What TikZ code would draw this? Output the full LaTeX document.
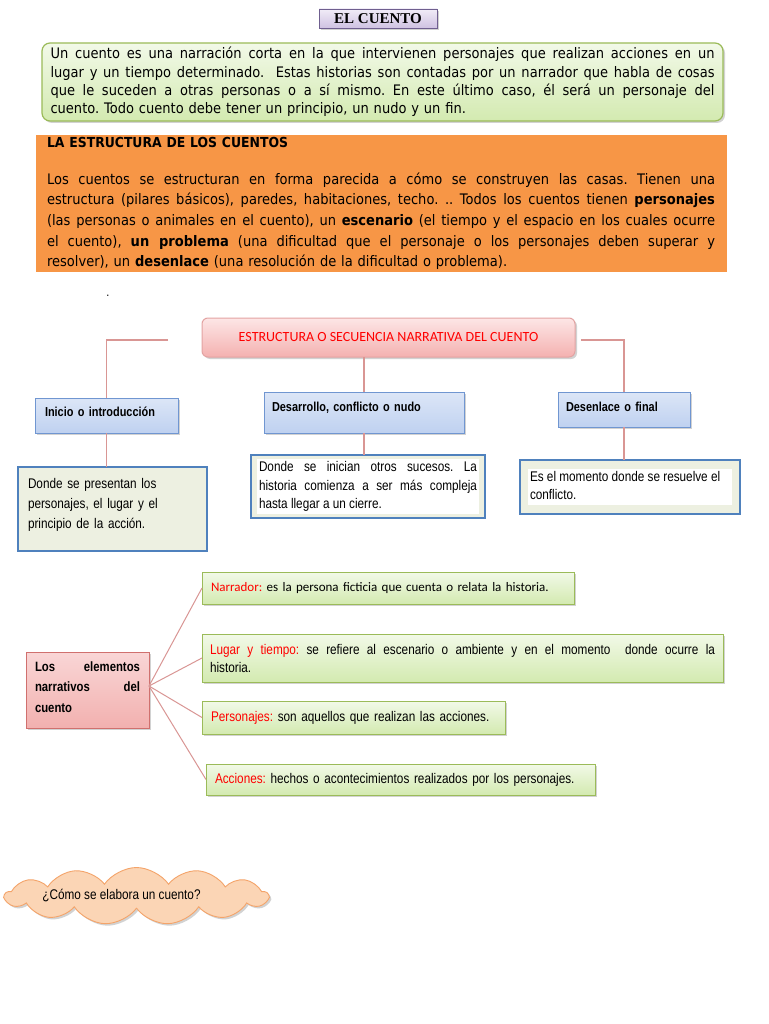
\documentclass[tikz,border=0pt]{standalone}
\usepackage{fontspec}
\setmainfont{Liberation Sans}
\newfontfamily\tahfont[FakeStretch=0.9]{DejaVu Sans}
\newfontfamily\narrowfont[FakeStretch=0.84]{Liberation Sans}
\newfontfamily\titlefont{Liberation Serif}
\newfontfamily\califont{Carlito}
\usetikzlibrary{shadows,shapes.symbols}
\newcommand\JL[2]{\makebox[#1][s]{\spaceskip=0pt\xspaceskip=0pt\relax #2}}
\definecolor{titleTop}{HTML}{F1ECF7}
\definecolor{titleBot}{HTML}{CFC2E2}
\definecolor{titleBd}{HTML}{6F5F8F}
\definecolor{grTop}{HTML}{F2F9E8}
\definecolor{grBot}{HTML}{D3EAB0}
\definecolor{grBd}{HTML}{9BBB59}
\definecolor{orng}{HTML}{F79646}
\definecolor{rdTop}{HTML}{FDE6E6}
\definecolor{rdBot}{HTML}{F4B1B0}
\definecolor{rdBd}{HTML}{E3A3A2}
\definecolor{connC}{HTML}{D99694}
\definecolor{blTop}{HTML}{DCE6F7}
\definecolor{blBot}{HTML}{BFD1F0}
\definecolor{blBd}{HTML}{7096D1}
\definecolor{dBd}{HTML}{4F81BD}
\definecolor{dFill}{HTML}{EDF0E1}
\definecolor{neTop}{HTML}{F9D6D6}
\definecolor{neBot}{HTML}{F2B0AF}
\definecolor{neBd}{HTML}{D0706E}
\definecolor{clFill}{HTML}{FBD5B5}
\definecolor{clBd}{HTML}{F4A46A}
\definecolor{redtxt}{HTML}{FF0000}
\begin{document}
\frenchspacing
\begin{tikzpicture}[x=1pt,y=-1pt,
  every node/.style={inner sep=0pt, outer sep=0pt},
  shadowA/.style={drop shadow={opacity=0.35, shadow xshift=2pt, shadow yshift=-2pt}},
  titlebox/.style={draw=titleBd, line width=0.9pt, top color=titleTop, bottom color=titleBot,
    minimum width=118pt, minimum height=19pt, shadowA,
    font=\titlefont\bfseries\fontsize{15}{17}\selectfont},
  introbox/.style={draw=grBd, line width=1.2pt, rounded corners=8pt, top color=grTop, bottom color=grBot,
    shadowA, align=left, font=\tahfont\fontsize{14.5}{18.3}\selectfont},
  orangebox/.style={draw=white, line width=3pt, fill=orng, shadowA, align=left,
    font=\tahfont\fontsize{14.5}{20.7}\selectfont},
  redbox/.style={draw=rdBd, line width=1pt, rounded corners=6pt, top color=rdTop, bottom color=rdBot,
    shadowA, text=redtxt, font=\califont\fontsize{14}{16}\selectfont},
  hdr/.style={draw=blBd, line width=0.9pt, top color=blTop, bottom color=blBot, shadowA,
    align=left, font=\narrowfont\bfseries\fontsize{13}{15}\selectfont},
  desc/.style={draw=dBd, line width=2.4pt, fill=dFill, align=left,
    font=\narrowfont\fontsize{14}{20}\selectfont},
  elem/.style={draw=grBd, line width=0.9pt, top color=grTop, bottom color=grBot, shadowA,
    align=left, font=\narrowfont\fontsize{14}{18}\selectfont},
  nebox/.style={draw=neBd, line width=1pt, top color=neTop, bottom color=neBot, shadowA,
    align=left, font=\narrowfont\bfseries\fontsize{13.5}{20.5}\selectfont},
  cloudbox/.style={cloud, cloud puffs=13, cloud puff arc=110, cloud ignores aspect,
    minimum width=263pt, minimum height=57pt, fill=clFill, draw=clBd, line width=0.9pt, shadowA,
    font=\narrowfont\fontsize{14}{16}\selectfont},
  conn/.style={draw=connC, line width=1.2pt}
]
\fill[white] (0,0) rectangle (768,1024);
\useasboundingbox (0,0) rectangle (768,1024);

% title
\node[titlebox] (title) at (378,18.5) {EL CUENTO};

% intro
\node[introbox, minimum width=681pt, minimum height=78pt, inner xsep=8.5pt, text width=664pt] (intro) at (382.5,82)
{\JL{664pt}{Un cuento es una narración corta en la que intervienen personajes que realizan acciones en un}\\
\JL{664pt}{lugar y un tiempo determinado.\ \ Estas historias son contadas por un narrador que habla de cosas}\\
\JL{664pt}{que le suceden a otras personas o a sí mismo. En este último caso, él será un personaje del}\\
cuento. Todo cuento debe tener un principio, un nudo y un fin.};

% structure
\node[orangebox, minimum width=694pt, minimum height=139pt, inner xsep=13pt, text width=668pt] (estruct) at (381,203.5)
{{\bfseries\fontsize{13.8}{20.7}\selectfont LA ESTRUCTURA DE LOS CUENTOS}\\[16pt]
\JL{668pt}{Los cuentos se estructuran en forma parecida a cómo se construyen las casas. Tienen una}\\
\JL{668pt}{estructura (pilares básicos), paredes, habitaciones, techo. .. Todos los cuentos tienen \textbf{personajes}}\\
\JL{668pt}{(las personas o animales en el cuento), un \textbf{escenario} (el tiempo y el espacio en los cuales ocurre}\\
\JL{668pt}{el cuento), \textbf{un problema} (una dificultad que el personaje o los personajes deben superar y}\\
resolver), un \textbf{desenlace} (una resolución de la dificultad o problema).};

\node[font=\narrowfont\fontsize{13}{15}\selectfont] (punto) at (108,296) {.};

% sequence
\node[redbox, minimum width=373pt, minimum height=39pt] (secuencia) at (388.5,337.5)
{ESTRUCTURA O SECUENCIA NARRATIVA DEL CUENTO};

\node[hdr, anchor=north west, text width=123pt, inner xsep=10pt, text height=18pt, text depth=17pt] (inicio) at (35,398) {Inicio o introducción};
\node[hdr, anchor=north west, text width=184pt, inner xsep=8pt, text height=19pt, text depth=22pt] (desa) at (264,392) {Desarrollo, conflicto o nudo};
\node[hdr, anchor=north west, text width=116pt, inner xsep=8pt, text height=19pt, text depth=16pt] (desen) at (558,392) {Desenlace o final};

\node[desc, anchor=north west, text width=169pt, inner xsep=10pt, text height=21pt, text depth=63pt] (d1) at (18,467)
{Donde se presentan los\\personajes, el lugar y el\\principio de la acción.};
\node[desc, anchor=north west, minimum width=234pt, minimum height=63pt] (d2) at (251,455)
{\setlength{\fboxsep}{2pt}\colorbox{white}{\parbox{218pt}{\fontsize{14}{18.5}\selectfont
\JL{218pt}{Donde se inician otros sucesos. La}\\
\JL{218pt}{historia comienza a ser más compleja}\\
hasta llegar a un cierre.}}};
\node[desc, anchor=north west, minimum width=220pt, minimum height=54pt] (d3) at (520,460)
{\setlength{\fboxsep}{2pt}\colorbox{white}{\parbox{200pt}{\fontsize{14}{18}\selectfont
Es el momento donde se resuelve el\\conflicto.\vspace{4pt}}}};

\coordinate (lA) at (168,340);
\coordinate (rA) at (581,340);
\draw[conn] (lA) -| (inicio.north);
\draw[conn] (rA) -| (desen.north);
\draw[conn] (desa.north |- secuencia.south) -- (desa.north);
\draw[conn] (inicio.south) -- (inicio.south |- d1.north);
\draw[conn] (desa.south) -- (desa.south |- d2.north);
\draw[conn] (desen.south) -- (desen.south |- d3.north);

% narrative elements
\node[nebox, anchor=north west, text width=105pt, inner xsep=9pt, text height=19pt, text depth=57pt] (ne) at (26,652)
{\JL{105pt}{Los elementos}\\ \JL{105pt}{narrativos del}\\ cuento};

\node[elem, anchor=north west, minimum width=372pt, minimum height=32pt, text width=354pt, inner xsep=9pt,
  font=\califont\fontsize{13}{16}\selectfont] (e1) at (202,572)
{\textcolor{redtxt}{Narrador:} es la persona ficticia que cuenta o relata la historia.};
\node[elem, anchor=north west, minimum height=48pt, text width=505pt, inner xsep=8pt] (e2) at (202,634)
{\JL{505pt}{\textcolor{redtxt}{Lugar y tiempo:} se refiere al escenario o ambiente y en el momento\ \ donde ocurre la}\\ historia.};
\node[elem, anchor=north west, minimum height=33pt, text width=285pt, inner xsep=9pt] (e3) at (202,701)
{\textcolor{redtxt}{Personajes:} son aquellos que realizan las acciones.};
\node[elem, anchor=north west, minimum height=31pt, text width=371pt, inner xsep=9pt] (e4) at (206,764)
{\textcolor{redtxt}{Acciones:} hechos o acontecimientos realizados por los personajes.};

\coordinate (fan) at (149,686);
\draw[conn, line width=1pt] (fan) -- (e1.west);
\draw[conn, line width=1pt] (fan) -- (e2.west);
\draw[conn, line width=1pt] (fan) -- (e3.west);
\draw[conn, line width=1pt] (fan) -- (e4.west);

% cloud
\node[cloudbox] (pregunta) at (136.5,896) {¿Cómo se elabora un cuento?\hspace*{30pt}};
\end{tikzpicture}
\end{document}
